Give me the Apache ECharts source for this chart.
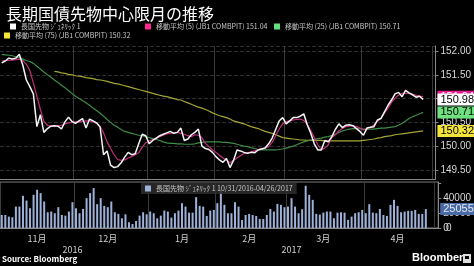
<!DOCTYPE html>
<html><head><meta charset="utf-8">
<script src="https://cdn.jsdelivr.net/npm/echarts@6/dist/echarts.min.js"></script>
<style>html,body{margin:0;padding:0;background:#000;}#c{width:474px;height:266px;}</style>
</head><body><div id="c"></div>
<script>
// trading days (last three are empty slots after the data)
const tradingDays = [
  ['2016-10', [31]],
  ['2016-11', [1,2,4,7,8,9,10,11,14,15,16,17,18,21,22,24,25,28,29,30]],
  ['2016-12', [1,2,5,6,7,8,9,12,13,14,15,16,19,20,21,22,26,27,28,29,30]],
  ['2017-01', [4,5,6,10,11,12,13,16,17,18,19,20,23,24,25,26,27,30,31]],
  ['2017-02', [1,2,3,6,7,8,9,10,13,14,15,16,17,20,21,22,23,24,27,28]],
  ['2017-03', [1,2,3,6,7,8,9,10,13,14,15,16,17,21,22,23,24,27,28,29,30,31]],
  ['2017-04', [3,4,5,6,7,10,11,12,13,14,17,18,19,20,21,24,25,26,27,28]],
  ['2017-05', [1]]
];
const monthLabelIdx = [10, 30, 51, 70, 91, 112];
const yearLabelIdx = [20, 82];

const closeVals = [151.75,151.79,151.85,151.83,151.85,151.93,151.70,151.39,151.25,151.10,
150.41,150.66,150.29,150.37,150.42,150.43,150.42,150.36,150.51,150.61,
150.52,150.48,150.53,150.58,150.38,150.57,150.53,150.49,150.40,149.82,
149.90,149.60,149.55,149.57,149.65,149.77,149.87,149.82,149.84,150.05,
150.25,150.22,150.05,150.12,150.17,150.22,150.25,150.28,150.31,150.27,
150.29,150.38,150.12,150.15,150.24,150.29,150.36,150.00,149.95,149.93,
149.87,149.78,149.71,149.66,149.74,149.55,149.70,149.92,149.90,149.87,
149.85,149.87,149.86,149.92,149.94,149.96,150.05,150.17,150.35,150.53,
150.60,150.47,150.53,150.60,150.60,150.63,150.68,150.45,150.27,150.05,
149.92,149.92,150.12,150.09,150.20,150.35,150.47,150.39,150.44,150.45,
150.43,150.37,150.31,150.23,150.38,150.40,150.41,150.55,150.58,150.72,
150.86,150.97,151.10,151.13,151.04,151.17,151.12,151.08,151.03,151.05,
150.98];

const ma5Vals = [151.79,151.80,151.80,151.81,151.82,151.83,151.80,151.72,151.59,151.33,
151.05,150.77,150.52,150.44,150.42,150.42,150.42,150.44,150.47,150.49,
150.50,150.51,150.51,150.52,150.53,150.53,150.51,150.48,150.42,150.28,
150.09,149.95,149.82,149.72,149.70,149.71,149.75,149.78,149.82,149.86,
149.98,150.07,150.11,150.14,150.17,150.20,150.23,150.26,150.27,150.28,
150.29,150.27,150.25,150.22,150.20,150.24,150.23,150.18,150.06,149.99,
149.92,149.87,149.81,149.75,149.71,149.65,149.70,149.75,149.80,149.85,
149.86,149.88,149.90,149.93,149.95,149.96,149.99,150.08,150.22,150.36,
150.47,150.51,150.53,150.55,150.56,150.57,150.54,150.46,150.33,150.18,
150.03,149.93,149.96,150.03,150.18,150.24,150.32,150.37,150.41,150.42,
150.43,150.41,150.38,150.34,150.36,150.39,150.45,150.52,150.60,150.70,
150.80,150.92,151.01,151.07,151.11,151.11,151.11,151.09,151.07,151.05,
151.04];

const ma25Vals = [151.93,151.92,151.91,151.90,151.88,151.86,151.83,151.80,151.78,151.74,
151.68,151.62,151.56,151.50,151.45,151.39,151.34,151.28,151.23,151.17,
151.11,151.05,151.00,150.96,150.91,150.86,150.80,150.75,150.69,150.63,
150.56,150.50,150.44,150.40,150.35,150.31,150.29,150.27,150.25,150.23,
150.22,150.20,150.18,150.16,150.14,150.12,150.09,150.07,150.06,150.06,
150.05,150.05,150.04,150.04,150.04,150.05,150.07,150.08,150.09,150.09,
150.09,150.09,150.09,150.08,150.08,150.07,150.06,150.04,150.02,150.00,
149.99,149.97,149.95,149.93,149.92,149.92,149.92,149.92,149.92,149.93,
149.94,149.96,149.98,150.00,150.03,150.06,150.09,150.11,150.13,150.14,
150.16,150.17,150.19,150.20,150.22,150.25,150.29,150.32,150.34,150.36,
150.37,150.37,150.37,150.36,150.36,150.36,150.36,150.37,150.38,150.38,
150.39,150.40,150.41,150.44,150.48,150.53,150.58,150.62,150.65,150.68,
150.71];

const ma75Vals = [null,null,null,null,null,null,null,null,null,null,
null,null,null,null,null,151.57,151.56,151.54,151.53,151.51,
151.50,151.48,151.47,151.46,151.44,151.43,151.42,151.40,151.39,151.38,
151.36,151.34,151.32,151.31,151.29,151.27,151.25,151.23,151.21,151.19,
151.17,151.15,151.13,151.11,151.09,151.07,151.05,151.04,151.02,151.00,
150.98,150.97,150.94,150.91,150.88,150.85,150.82,150.80,150.77,150.74,
150.70,150.67,150.64,150.62,150.60,150.57,150.53,150.51,150.49,150.47,
150.44,150.41,150.39,150.37,150.34,150.31,150.29,150.27,150.24,150.21,
150.18,150.17,150.16,150.15,150.14,150.13,150.13,150.12,150.12,150.12,
150.12,150.12,150.11,150.11,150.11,150.11,150.11,150.11,150.11,150.11,
150.11,150.11,150.11,150.12,150.13,150.14,150.15,150.17,150.18,150.20,
150.21,150.22,150.24,150.25,150.26,150.27,150.28,150.29,150.30,150.31,
150.32];

const volumeVals = [17300,17300,15100,14200,28400,28400,42700,36400,26200,44000,
50700,46200,35100,20900,21800,19600,27600,17300,16400,21800,
34200,26200,19600,25300,39600,46200,52900,31600,39600,29300,
27600,35100,20900,18700,12900,18200,7600,5300,9300,16400,
20900,18200,21800,19600,12900,16400,23100,21800,13800,19600,
23100,32900,28400,20400,20400,40900,29300,28400,16000,23100,
24000,32900,50700,30700,19600,19600,34200,28400,10700,17300,
18700,17300,16000,12000,12000,17300,25300,21800,32000,30700,
27600,28400,39600,28400,19600,24900,56000,44000,37300,18700,
17800,20400,21800,21800,12900,20400,20900,20400,10700,15100,
19600,20900,24000,19600,31600,20400,19600,25300,17300,16000,
30700,37300,29300,20900,21800,22700,22700,24000,18700,18700,
25055];

const priceTicks = [149.5, 150.0, 150.5, 151.0, 151.5, 152.0];
const volumeTicks = [0, 20000, 40000];

const closeName = '長国先物 ｼﾞｪﾈﾘｯｸ 1';
const volName = '長国先物 ｼﾞｪﾈﾘｯｸ 1 10/31/2016-04/26/2017';
const last = a => a[a.length - 1];
const ma5Name = '移動平均 (5) (JB1 COMBPIT) ' + last(ma5Vals).toFixed(2);
const ma25Name = '移動平均 (25) (JB1 COMBPIT) ' + last(ma25Vals).toFixed(2);
const ma75Name = '移動平均 (75) (JB1 COMBPIT) ' + last(ma75Vals).toFixed(2);

const dates = [];
tradingDays.forEach(([ym, days]) => days.forEach(d => dates.push(ym + '-' + String(d).padStart(2, '0'))));
const monthStart = new Set();
for (let i = 2; i < dates.length; i++) if (dates[i].slice(0, 7) !== dates[i - 1].slice(0, 7)) monthStart.add(i);

const FONT = 'Noto Sans CJK JP';
const LEGFONT = 'Noto Sans CJK JP, sans-serif';
const NUMFONT = 'Liberation Sans Narrow, Liberation Sans, sans-serif';
const gridLineColor = '#3a3a3a';
const axisColor = '#8a8a8a';

function tag(bg, fg, digits) {
  return {
    silent: true, symbol: ['none', 'none'], animation: false,
    lineStyle: { color: 'rgba(0,0,0,0)', width: 1 },
    label: { show: true, position: 'end', distance: 2, fontFamily: NUMFONT, fontSize: 11,
      color: fg, backgroundColor: bg, padding: [1, 3, 0, 3],
      formatter: p => digits ? Number(p.value).toFixed(digits) : String(p.value) },
  };
}
function legendBase(extra) {
  return Object.assign({
    selectedMode: false, icon: 'rect', itemWidth: 6, itemHeight: 6, itemGap: 6, padding: 0,
    textStyle: { color: '#c8c8c8', fontSize: 7, fontFamily: LEGFONT }
  }, extra);
}

const chart = echarts.init(document.getElementById('c'), null, { renderer: 'canvas' });
chart.setOption({
  backgroundColor: '#000',
  animation: false,
  title: { text: '長期国債先物中心限月の推移', left: 1, top: 1,
    textStyle: { color: '#fff', fontSize: 16, fontWeight: 'normal', fontFamily: FONT } },
  legend: [
    legendBase({ left: 10, top: 23, data: [{ name: closeName, itemStyle: { color: '#fff' } }] }),
    legendBase({ left: 145, top: 23, data: [{ name: ma5Name, itemStyle: { color: '#ff2a8f' } }] }),
    legendBase({ left: 274, top: 23, data: [{ name: ma25Name, itemStyle: { color: '#63e07c' } }] }),
    legendBase({ left: 4, top: 32, data: [{ name: ma75Name, itemStyle: { color: '#f2e43a' } }] }),
    legendBase({ left: 141, top: 183, padding: [2, 4], backgroundColor: 'rgba(45,45,45,0.85)',
      data: [{ name: volName, itemStyle: { color: '#9db1d9' } }] })
  ],
  grid: [
    { left: 0, right: 33, top: 46, height: 133 },
    { left: 0, right: 33, top: 182, height: 46, show: true, borderColor: '#7a7a7a', borderWidth: 1 }
  ],
  xAxis: [
    { type: 'category', gridIndex: 0, data: dates, boundaryGap: true,
      axisLine: { show: true, lineStyle: { color: axisColor } }, axisTick: { show: false }, axisLabel: { show: false },
      splitLine: { show: true, interval: i => monthStart.has(i), lineStyle: { color: gridLineColor } } },
    { type: 'category', gridIndex: 1, data: dates, boundaryGap: true,
      axisLine: { show: true, lineStyle: { color: axisColor } }, axisTick: { show: false },
      axisLabel: { interval: i => monthLabelIdx.includes(i), color: '#cfcfcf', fontSize: 9, margin: 6, fontFamily: FONT,
        formatter: v => parseInt(v.slice(5, 7), 10) + '月' },
      splitLine: { show: true, interval: i => monthStart.has(i), lineStyle: { color: gridLineColor } } },
    { type: 'category', gridIndex: 1, data: dates, boundaryGap: true, position: 'bottom', offset: 11,
      axisLine: { show: false }, axisTick: { show: false }, splitLine: { show: false },
      axisLabel: { interval: i => yearLabelIdx.includes(i), color: '#cfcfcf', fontSize: 9, margin: 6, fontFamily: FONT,
        formatter: v => v.slice(0, 4) } }
  ],
  yAxis: [
    { type: 'value', gridIndex: 0, position: 'right', min: 149.31, max: 152.105, splitNumber: 5,
      axisLine: { show: true, lineStyle: { color: axisColor } },
      axisTick: { show: true, length: 3, lineStyle: { color: axisColor } },
      axisLabel: { color: '#d8d8d8', fontSize: 10, margin: 5, fontFamily: NUMFONT, showMinLabel: false, showMaxLabel: false,
        formatter: v => priceTicks.some(t => Math.abs(t - v) < 1e-6) ? v.toFixed(2) : '' },
      splitLine: { show: true, lineStyle: { color: '#2f2f2f', type: 'dashed' } } },
    { type: 'value', gridIndex: 1, position: 'right', min: 0, max: 61000, interval: 20000,
      axisLine: { show: true, lineStyle: { color: axisColor } },
      axisTick: { show: true, length: 3, lineStyle: { color: axisColor } },
      axisLabel: { color: '#d8d8d8', fontSize: 10, margin: 5, fontFamily: NUMFONT, showMinLabel: true, showMaxLabel: false,
        formatter: v => volumeTicks.includes(v) ? String(v) : '' },
      splitLine: { show: false } }
  ],
  series: [
    { name: ma75Name, type: 'line', xAxisIndex: 0, yAxisIndex: 0, data: ma75Vals, showSymbol: false, z: 2, clip: false,
      color: '#a4a536', lineStyle: { width: 1.2, color: '#a4a536' },
      markLine: Object.assign(tag('#f2e43a', '#000', 2), { data: [{ yAxis: last(ma75Vals) }] }) },
    { name: ma25Name, type: 'line', xAxisIndex: 0, yAxisIndex: 0, data: ma25Vals, showSymbol: false, z: 3, clip: false,
      color: '#3f8c48', lineStyle: { width: 1.2, color: '#3f8c48' },
      markLine: Object.assign(tag('#6fe07f', '#000', 2), { data: [{ yAxis: last(ma25Vals) }] }) },
    { name: ma5Name, type: 'line', xAxisIndex: 0, yAxisIndex: 0, data: ma5Vals, showSymbol: false, z: 4, clip: false,
      color: '#c2307c', lineStyle: { width: 1.2, color: '#c2307c' },
      markLine: Object.assign(tag('#e8188a', '#fff', 2), { data: [{ yAxis: last(ma5Vals) }] }) },
    { name: closeName, type: 'line', xAxisIndex: 0, yAxisIndex: 0, data: closeVals, showSymbol: false, z: 5, clip: false,
      color: '#ffffff', lineStyle: { width: 1.5, color: '#f4f4f4' },
      markLine: Object.assign(tag('#ffffff', '#000', 2), { data: [{ yAxis: last(closeVals) }] }) },
    { name: volName, type: 'bar', xAxisIndex: 1, yAxisIndex: 1, data: volumeVals, barWidth: 2, z: 3, clip: false,
      itemStyle: { color: '#9db1d9' },
      markLine: Object.assign(tag('#4a6aa3', '#dfe7f7', 0), { data: [{ yAxis: last(volumeVals) }] }) }
  ],
  graphic: [
    { type: 'text', left: 2, top: 255, style: { text: 'Source: Bloomberg', fill: '#fff', font: 'bold 8px ' + FONT } },
    { type: 'text', left: 412, top: 252, style: { text: 'Bloomberg', fill: '#fff', font: 'bold 11px Liberation Sans, sans-serif' } },
    { type: 'rect', left: 463, top: 254, shape: { width: 8, height: 9 }, style: { fill: '#ddd' } },
    { type: 'rect', left: 465, top: 256, shape: { width: 4, height: 3 }, style: { fill: '#000' } }
  ]
});
// the zero label of the volume axis, placed through the axis scale
const zeroY = chart.convertToPixel({ yAxisIndex: 1 }, volumeTicks[0]);
chart.setOption({ graphic: [
  { id: 'vol0', type: 'text', x: 446, y: zeroY, z: 100,
    style: { text: String(volumeTicks[0]), fill: '#d8d8d8', font: '10px ' + NUMFONT, verticalAlign: 'middle' } }
] });
</script>
</body></html>
